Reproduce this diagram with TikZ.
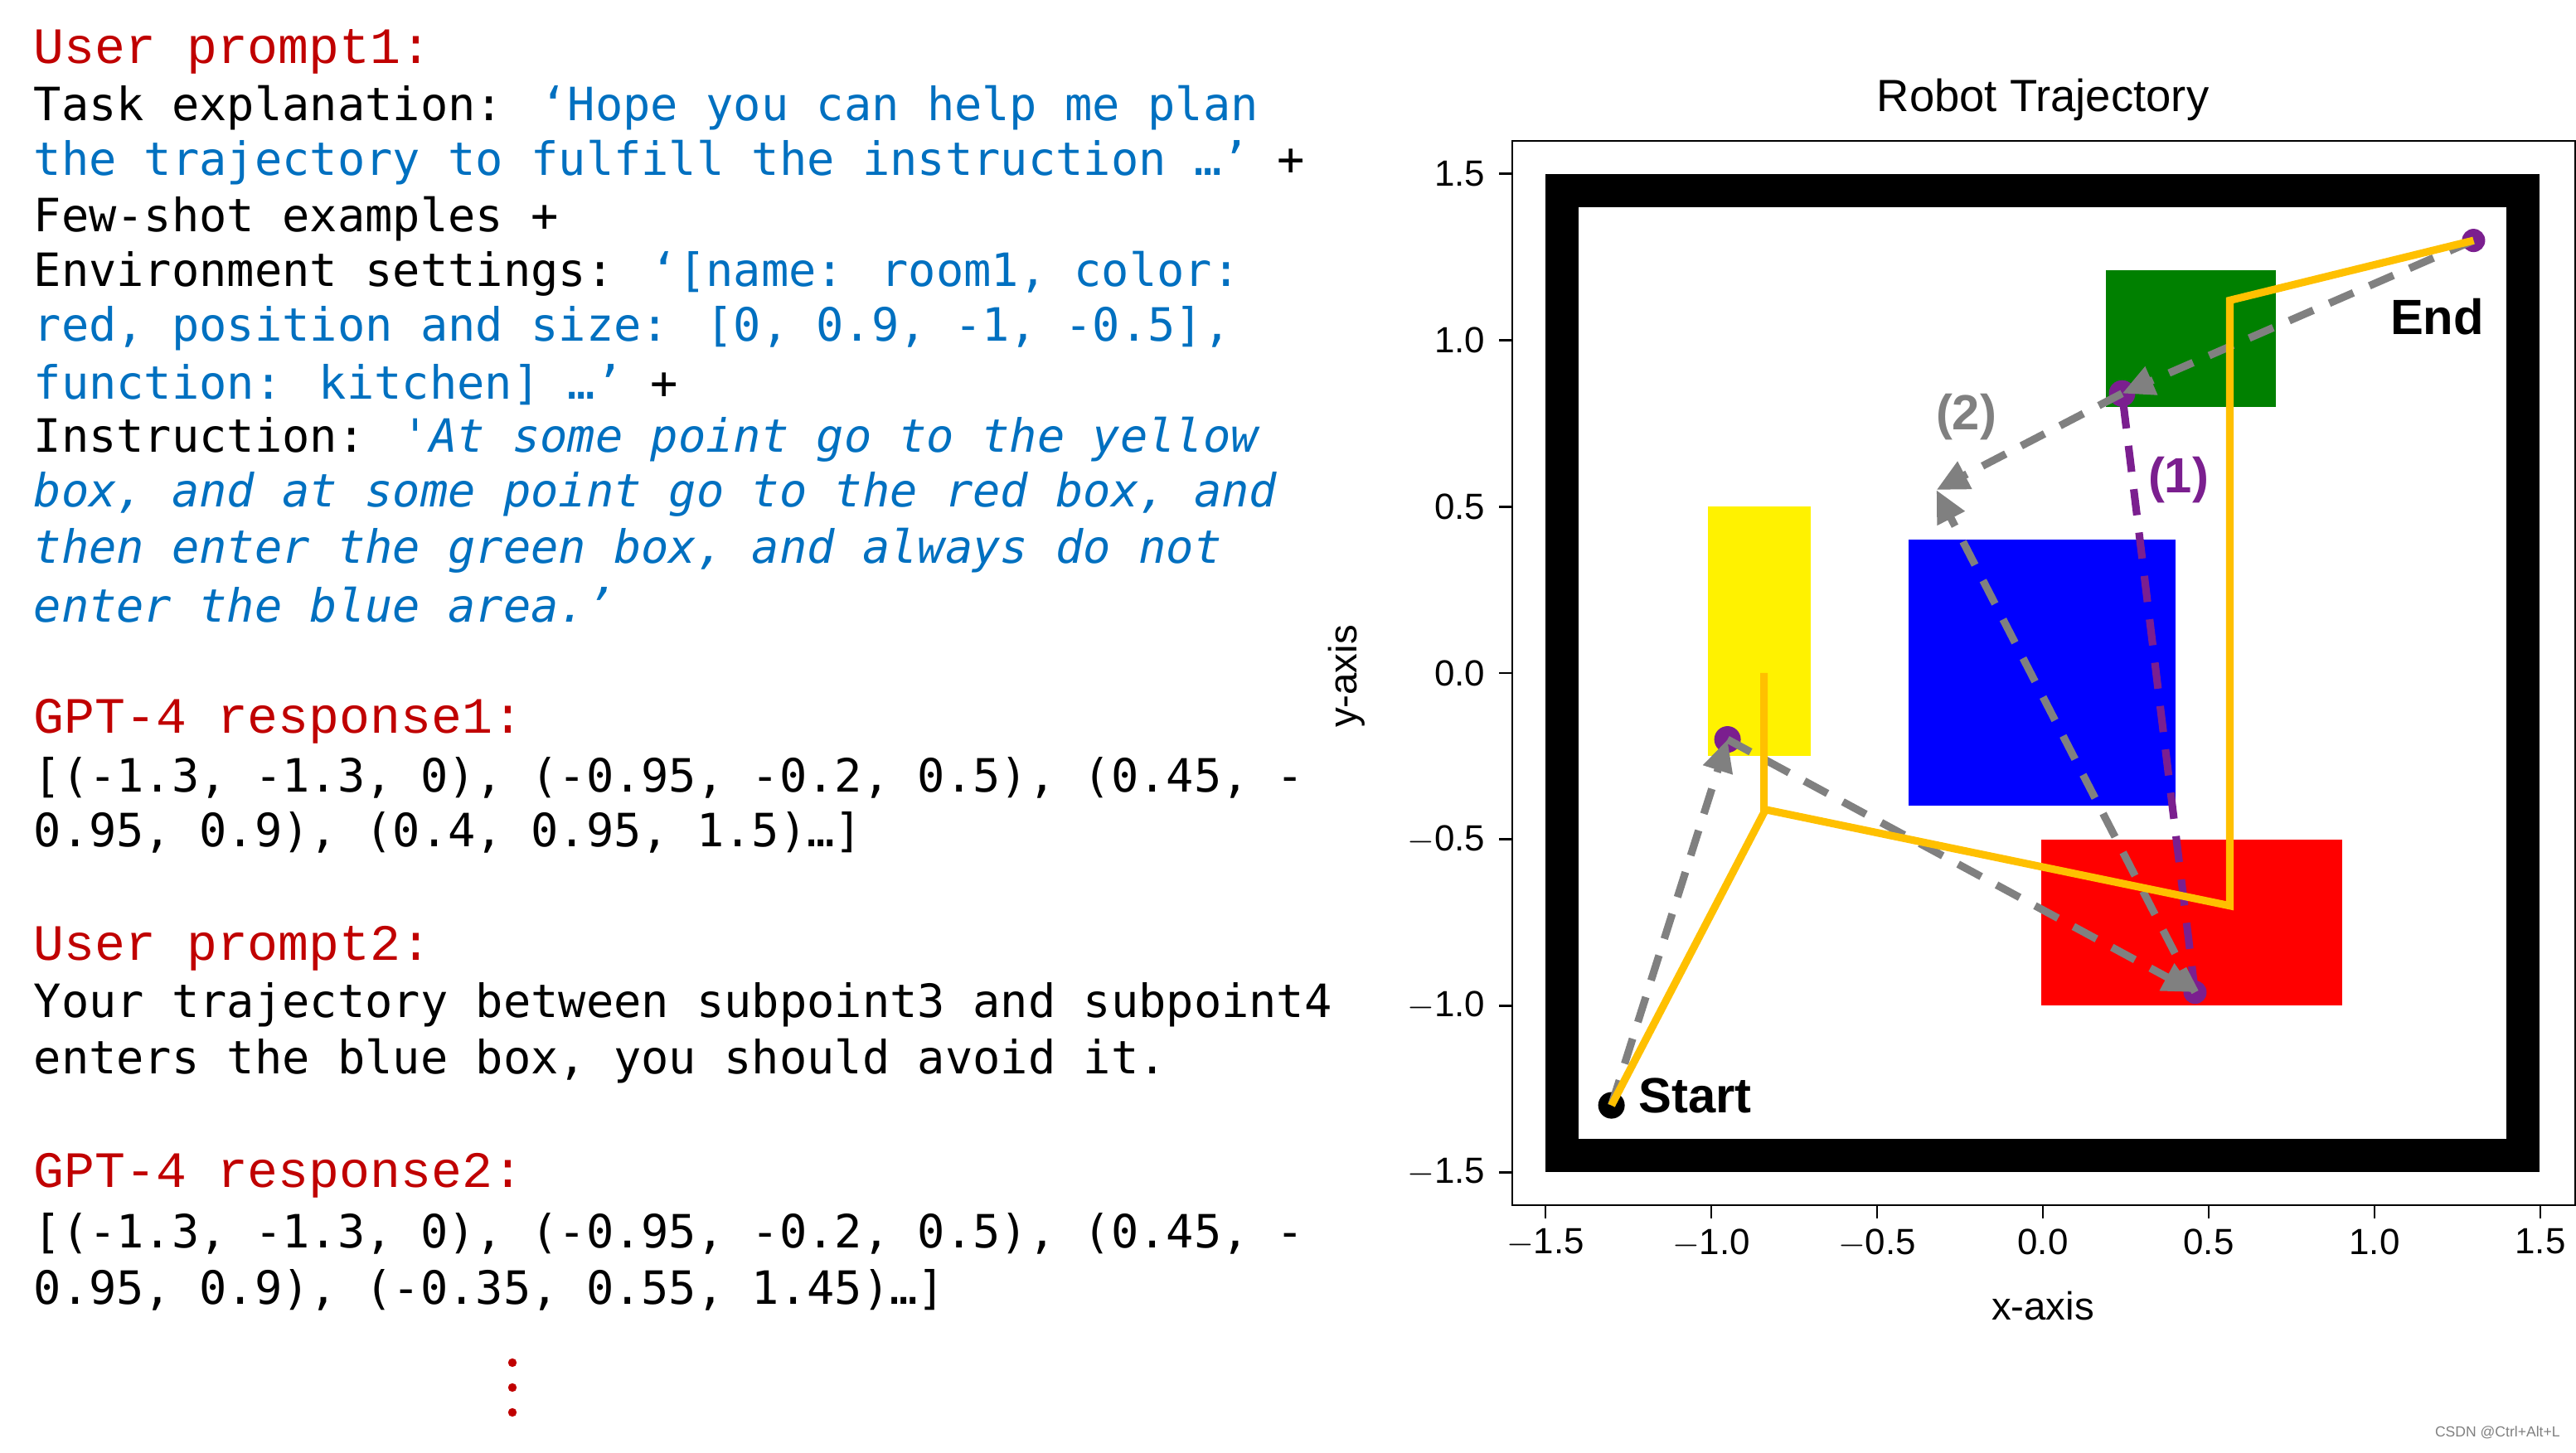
\documentclass[tikz,border=0pt]{standalone}
\usepackage{fontspec}
\setmainfont{Liberation Sans}
\newfontfamily\monof{DejaVu Sans Mono}
\newfontfamily\headf{Liberation Mono}
\usetikzlibrary{arrows.meta}
\definecolor{hred}{HTML}{C00000}
\definecolor{tblue}{HTML}{0070C0}
\definecolor{traj}{HTML}{FFC000}
\definecolor{pur}{HTML}{7B1F8F}
\definecolor{gr}{HTML}{808080}
\tikzset{
 line/.style={anchor=west,inner sep=0pt,font=\monof\fontsize{15.75}{18}\selectfont},
 head/.style={anchor=west,inner sep=0pt,font=\headf\fontsize{17.5}{20}\selectfont,text=hred},
 tick/.style={font=\fontsize{12.5}{14}\selectfont,inner sep=0pt},
 gdash/.style={gr,line width=2.6pt,dash pattern=on 9pt off 6pt,-{Triangle[length=11pt,width=10pt]}},
 pdash/.style={pur,line width=2.6pt,dash pattern=on 9pt off 6pt},
 lab/.style={font=\bfseries\fontsize{17}{20}\selectfont,inner sep=0pt}
}
\begin{document}
\begin{tikzpicture}[x=0.02cm,y=-0.02cm]
\useasboundingbox (0,0) rectangle (1553.5,876.5);
% left text
\node[head] (h1) at (20,31) {User prompt1:};
\node[line] (l2) at (20,65) {Task explanation: \textcolor{tblue}{‘Hope you can help me plan}};
\node[line] (l3) at (20,98) {\textcolor{tblue}{the trajectory to fulfill the instruction …’} +};
\node[line] (l4) at (20,132) {Few-shot examples +};
\node[line] (l5) at (20,165) {Environment settings: \textcolor{tblue}{‘[name: room1, color:}};
\node[line] (l6) at (20,198) {\textcolor{tblue}{red, position and size: [0, 0.9, -1, -0.5],}};
\node[line] (l7) at (20,232) {\textcolor{tblue}{function: kitchen] …’} +};
\node[line] (l8) at (20,265) {Instruction: \textcolor{tblue}{\itshape 'At some point go to the yellow}};
\node[line,text=tblue] (l9) at (20,298) {\itshape box, and at some point go to the red box, and};
\node[line,text=tblue] (l10) at (20,332) {\itshape then enter the green box, and always do not};
\node[line,text=tblue] (l11) at (20,365) {\itshape enter the blue area.’};
\node[head] (h2) at (20,435) {GPT-4 response1:};
\node[line] (r1) at (20,469) {[(-1.3, -1.3, 0), (-0.95, -0.2, 0.5), (0.45, -};
\node[line] (r2) at (20,502) {0.95, 0.9), (0.4, 0.95, 1.5)…]};
\node[head] (h3) at (20,572) {User prompt2:};
\node[line] (u1) at (20,606) {Your trajectory between subpoint3 and subpoint4};
\node[line] (u2) at (20,640) {enters the blue box, you should avoid it.};
\node[head] (h4) at (20,709) {GPT-4 response2:};
\node[line] (s1) at (20,744) {[(-1.3, -1.3, 0), (-0.95, -0.2, 0.5), (0.45, -};
\node[line] (s2) at (20,778) {0.95, 0.9), (-0.35, 0.55, 1.45)…]};
\foreach \yy [count=\i] in {822,837,852} \fill[hred] (309,\yy) circle (2.6);
% plot frame
\node[font=\fontsize{15.5}{18}\selectfont] (title) at (1232,60) {Robot Trajectory};
\draw[line width=0.8pt] (912,85) rectangle (1553,727);
\foreach \v/\t in {-1.5/$-$1.5,-1.0/$-$1.0,-0.5/$-$0.5,0.0/0.0,0.5/0.5,1.0/1.0,1.5/1.5}{
  \draw[line width=0.8pt] ({1232+200*\v},727) -- ({1232+200*\v},735);
  \node[tick,anchor=north] at ({1232+200*\v},741) {\t};
  \draw[line width=0.8pt] (912,{406-200.7*\v}) -- (904,{406-200.7*\v});
  \node[tick,anchor=east] at (896,{406-200.7*\v}) {\t};
}
\node[font=\fontsize{13.5}{16}\selectfont] (xl) at (1232,788) {x-axis};
\node[font=\fontsize{13.5}{16}\selectfont,rotate=90] (yl) at (812,408) {y-axis};
\begin{scope}[shift={(24.64cm,-8.12cm)},x=4cm,y=4.014cm]
 \draw[line width=0.4cm] (-1.45,-1.45) rectangle (1.45,1.45);
 \fill[green!50!black] (0.19,0.8) rectangle (0.705,1.21);
 \fill[yellow] (-1.01,-0.25) rectangle (-0.7,0.5);
 \fill[blue] (-0.405,-0.4) rectangle (0.4,0.4);
 \fill[red] (-0.005,-1.0) rectangle (0.905,-0.5);
 \coordinate (S) at (-1.3,-1.3);
 \coordinate (A) at (-0.95,-0.2);
 \coordinate (B) at (0.46,-0.96);
 \coordinate (C) at (-0.32,0.55);
 \coordinate (D) at (0.24,0.84);
 \coordinate (E) at (1.3,1.3);
 \fill[pur] (A) circle (0.04);
 \fill[pur] (D) circle (0.04);
 \fill[pur] (B) circle (0.035);
 \fill[pur] (E) circle (0.035);
 \fill[black] (S) circle (0.04);
 \draw[pdash] (B) -- (D);
 \draw[gdash] (S) -- (A);
 \draw[gdash] (A) -- (B);
 \draw[gdash] (B) -- (C);
 \draw[gdash] (E) -- (D);
 \draw[gdash] (D) -- (C);
 \draw[traj,line width=2.6pt,line join=miter] (S) -- (-0.84,-0.42) -- (-0.84,0.0);
 \draw[traj,line width=2.6pt] (-0.84,-0.41) -- (0.565,-0.7) -- (0.565,1.12) -- (E);
 \node[lab,anchor=west] (st) at (-1.22,-1.27) {Start};
 \node[lab] (en) at (1.19,1.07) {End};
 \node[lab,text=gr] (n2) at (-0.23,0.77) {(2)};
 \node[lab,text=pur] (n1) at (0.41,0.58) {(1)};
\end{scope}
\node[font=\fontsize{5}{6}\selectfont,text=gray,anchor=south east] (wm) at (1550,874) {CSDN @Ctrl+Alt+L};
\end{tikzpicture}
\end{document}
